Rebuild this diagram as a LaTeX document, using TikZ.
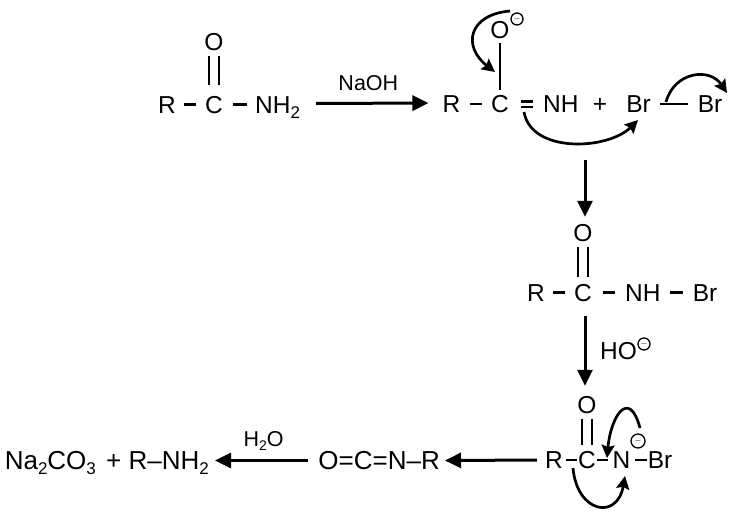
\documentclass[tikz,border=0pt]{standalone}
\usepackage{fontspec}
\setmainfont{Liberation Sans}
\usetikzlibrary{arrows.meta}
\newcommand{\chemsub}[1]{\raisebox{-5pt}{\fontsize{17}{17}\selectfont #1}}
\newcommand{\smallsub}[1]{\raisebox{-4pt}{\fontsize{14}{14}\selectfont #1}}
\tikzset{
  atom/.style={inner sep=0pt,text height=17pt,text depth=0pt,font=\fontsize{24.5}{24.5}\selectfont},
  chain/.style={atom,font=\fontsize{26}{26}\selectfont},
  reagent/.style={inner sep=0pt,text height=15pt,text depth=0pt,font=\fontsize{21.5}{21.5}\selectfont},
  bond/.style={line width=2.7pt},
  dash bond/.style={line width=2.1pt},
  rxn/.style={line width=3pt,-{Triangle[length=16pt,width=15pt]}},
  push/.style={line width=2.7pt,-{Stealth[length=13pt,width=13pt,inset=2pt]}},
  chg/.style={circle,draw,line width=1.3pt,inner sep=0pt,minimum size=12pt,font=\fontsize{9}{9}\selectfont}
}
\begin{document}
\begin{tikzpicture}[x=1pt,y=-1pt]
\useasboundingbox (0,0) rectangle (735,512);

% amide
\node [atom] (c1) at (214,104.5) {C};
\node [atom] (r1) at (167,104.5) {R};
\node [atom,anchor=west] (nh1) at (255,104.5) {NH\chemsub{2}};
\node [atom] (o1) at (214,42) {O};
\draw [dash bond,shorten <=8pt,shorten >=8.5pt] (r1.east) -- (c1.west);
\draw [dash bond,shorten <=9.5pt,shorten >=8pt] (c1.east) -- (nh1.west);
\draw [bond,shorten <=5pt,shorten >=11pt] ([xshift=-5pt]o1.south) -- ([xshift=-5pt]c1.north);
\draw [bond,shorten <=5pt,shorten >=11pt] ([xshift=5pt]o1.south) -- ([xshift=5pt]c1.north);

% anion and bromine
\node [atom] (r2) at (451.5,104) {R};
\node [atom] (c2) at (500,104) {C};
\node [atom,anchor=west] (nh2) at (543,104) {NH};
\node [atom] (plus) at (600,104) {+};
\node [atom] (br1) at (638.5,104) {Br};
\node [atom] (br2) at (710,104) {Br};
\node [atom] (o2) at (500,30) {O};
\node [chg] (minus1) at (517,19) {$-$};
\draw [rxn,shorten <=16pt,shorten >=14pt] ([yshift=1pt]nh1.east) -- ([yshift=1pt]r2.west) node [reagent,midway,above=11pt,xshift=-3pt] (naoh) {NaOH};
\draw [dash bond,shorten <=9pt,shorten >=8.5pt] (r2.east) -- (c2.west);
\draw [dash bond,shorten <=12pt,shorten >=10pt] ([yshift=2.5pt]c2.east) -- ([yshift=2.5pt]nh2.west);
\draw [dash bond,shorten <=12pt,shorten >=10pt] ([yshift=-3pt]c2.east) -- ([yshift=-3pt]nh2.west);
\draw [dash bond,shorten <=9pt,shorten >=10pt] (br1.east) -- (br2.west);
\draw [bond,shorten <=4.5pt,shorten >=5.5pt] (o2.south) -- (c2.north);

\coordinate (a1) at (510,11);
\coordinate (a2) at (495,72);
\coordinate (b1) at (524,112);
\coordinate (b2) at (638,120);
\coordinate (d1) at (666,102);
\coordinate (d2) at (727,93);
\draw [push] (a1) to [out=185,in=142,looseness=1.7] (a2);
\draw [push] (b1) to [out=-80,in=-135,looseness=.95] (b2);
\draw [push] (d1) to [out=75,in=124,looseness=1.3] (d2);

% bromoamide
\node [atom] (o3) at (583,233) {O};
\node [atom] (c3) at (583,292.5) {C};
\node [atom] (r3) at (536,292.5) {R};
\node [atom,anchor=west] (nh3) at (625,292.5) {NH};
\node [atom] (br3) at (705,292.5) {Br};
\coordinate (e0) at (585,160);
\coordinate (e1) at (585,316);
\draw [dash bond,shorten <=8pt,shorten >=8.5pt] (r3.east) -- (c3.west);
\draw [dash bond,shorten <=10.5pt,shorten >=10pt] (c3.east) -- (nh3.west);
\draw [dash bond,shorten <=9pt,shorten >=10pt] (nh3.east) -- (br3.west);
\draw [bond,shorten <=5.5pt,shorten >=7pt] ([xshift=-5pt]o3.south) -- ([xshift=-5pt]c3.north);
\draw [bond,shorten <=5.5pt,shorten >=7pt] ([xshift=5pt]o3.south) -- ([xshift=5pt]c3.north);
\draw [rxn,shorten >=7.5pt] (e0) -- (e0 |- o3.north);

% bromoamide anion
\node [atom] (o4) at (587,405) {O};
\node [atom] (c4) at (587,460) {C};
\node [atom] (r4) at (554,460) {R};
\node [atom] (n4) at (621.5,460) {N};
\node [atom] (br4) at (660,460) {Br};
\node [chg,minimum size=14pt] (minus2) at (638,441) {$-$};
\draw [dash bond,shorten <=3pt,shorten >=.5pt] (r4.east) -- (c4.west);
\draw [dash bond,shorten <=1pt,shorten >=4pt] (c4.east) -- (n4.west);
\draw [dash bond,shorten <=4pt,shorten >=1pt] (n4.east) -- (br4.west);
\draw [bond,shorten <=5pt,shorten >=6.5pt] ([xshift=-5pt]o4.south) -- ([xshift=-5pt]c4.north);
\draw [bond,shorten <=5pt,shorten >=6.5pt] ([xshift=5pt]o4.south) -- ([xshift=5pt]c4.north);
\draw [rxn,shorten >=10.5pt] (e1) -- (e1 |- o4.north);
\node [atom,anchor=west] (ho) at (600,351) {HO};
\node [chg] (minus3) at (644,344) {$-$};

\coordinate (f1) at (640,428);
\coordinate (f2) at (607,458);
\coordinate (g1) at (573,468);
\coordinate (g2) at (625,476);
\draw [push] (f1) to [out=105,in=85,looseness=2.4] (f2);
\draw [push] (g1) to [out=-85,in=-100,looseness=2.2] (g2);

% bottom row
\node [chain,anchor=east] (iso) at (440,460.5) {O=C=N–R};
\node [atom,anchor=east,font=\fontsize{26}{26}\selectfont] (prod) at (209,460.5) {Na\chemsub{2}CO\chemsub{3}\hspace{3pt} + R–NH\chemsub{2}};
\draw [rxn,shorten <=8pt,shorten >=5pt] (r4.west) -- (iso.east);
\draw [rxn,shorten <=10pt,shorten >=6pt] (iso.west) -- (prod.east) node [reagent,midway,above=13pt] (water) {H\smallsub{2}O};
\end{tikzpicture}
\end{document}
